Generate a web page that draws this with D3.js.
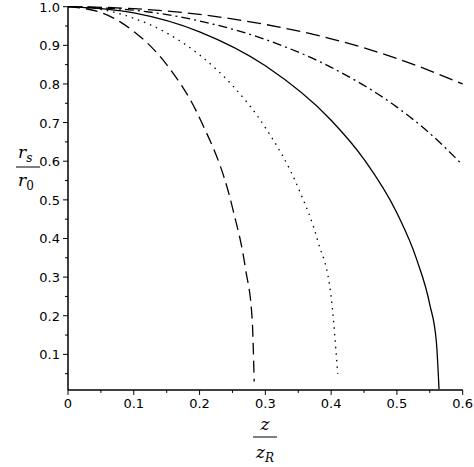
<!DOCTYPE html><html><head><script src="https://cdn.jsdelivr.net/npm/d3@7"></script>
<style>body{margin:0;background:#fff}</style></head><body><svg id="c" width="474" height="467"></svg><script>
const xTicks=[0,0.1,0.2,0.3,0.4,0.5,0.6];
const yTicks=[0.1,0.2,0.3,0.4,0.5,0.6,0.7,0.8,0.9,1.0];
const s1x=[0,0.05,0.1,0.15,0.2,0.25,0.27,0.28,0.283];
const s1y=[1,0.985,0.936,0.85,0.712,0.48,0.32,0.19,0.03];
const s2x=[0,0.05,0.1,0.15,0.2,0.25,0.3,0.35,0.38,0.4,0.41];
const s2y=[1,0.993,0.970,0.932,0.875,0.796,0.687,0.531,0.392,0.249,0.05];
const s3x=[0,0.1,0.2,0.3,0.4,0.45,0.5,0.53,0.55,0.56,0.564];
const s3y=[1,0.984,0.935,0.847,0.706,0.605,0.466,0.346,0.229,0.132,0.01];
const s4x=[0,0.1,0.2,0.3,0.4,0.5,0.55,0.6];
const s4y=[1,0.991,0.963,0.915,0.843,0.740,0.672,0.59];
const s5x=[0,0.1,0.2,0.3,0.4,0.5,0.6];
const s5y=[1,0.995,0.980,0.954,0.917,0.866,0.80];
const svg=d3.select("#c");
const x=d3.scaleLinear().domain([0,0.6]).range([68,462.7]);
const y=d3.scaleLinear().domain([0,1]).range([393,6.7]);
const g=svg.append("g").attr("font-family","DejaVu Sans, Verdana").attr("font-size",13);
const y0=y(0.008);
g.append("line").attr("x1",x(0)).attr("x2",x(0.6)).attr("y1",y0).attr("y2",y0).attr("stroke","#000").attr("stroke-width",1.5);
g.append("line").attr("x1",x(0)).attr("x2",x(0)).attr("y1",y0).attr("y2",y(1)).attr("stroke","#000").attr("stroke-width",1.5);
d3.range(0,0.6001,0.05).forEach((v,i)=>g.append("line").attr("x1",x(v)).attr("x2",x(v)).attr("y1",y0).attr("y2",y0+(i%2?3:5)).attr("stroke","#000"));
d3.range(0.05,1.0001,0.05).forEach((v,i)=>g.append("line").attr("x1",x(0)).attr("x2",x(0)-(i%2?5:3)).attr("y1",y(v)).attr("y2",y(v)).attr("stroke","#000"));
xTicks.forEach(v=>g.append("text").attr("x",x(v)).attr("y",y0+18).attr("text-anchor","middle").text(v===0?"0":v.toFixed(1)));
yTicks.forEach(v=>g.append("text").attr("x",x(0)-8).attr("y",y(v)+5).attr("text-anchor","end").text(v.toFixed(1)));
const ser=[[s1x,s1y,"12,6"],[s2x,s2y,"1.5,5"],[s3x,s3y,null],[s4x,s4y,"9,4,2,4"],[s5x,s5y,"14,6"]];
const line=d3.line().x(d=>x(d[0])).y(d=>y(d[1])).curve(d3.curveMonotoneX);
ser.forEach(([xs,ys,da])=>{const p=svg.append("path").attr("d",line(xs.map((v,i)=>[v,ys[i]]))).attr("fill","none").attr("stroke","#000").attr("stroke-width",1.3);if(da)p.attr("stroke-dasharray",da);});
const f="DejaVu Serif, Liberation Serif";
const lab=svg.append("g").attr("font-family",f).attr("font-style","italic").attr("font-size",17);
lab.append("text").attr("x",265).attr("y",430).attr("text-anchor","middle").text("z");
lab.append("line").attr("x1",253).attr("x2",277).attr("y1",437).attr("y2",437).attr("stroke","#000");
const t=lab.append("text").attr("x",256).attr("y",458).text("z");t.append("tspan").attr("font-size",12).attr("dy",4).text("R");
const t2=lab.append("text").attr("x",18).attr("y",158).text("r");t2.append("tspan").attr("font-size",12).attr("dy",4).text("s");
lab.append("line").attr("x1",16).attr("x2",40).attr("y1",167).attr("y2",167).attr("stroke","#000");
const t3=lab.append("text").attr("x",18).attr("y",186).text("r");t3.append("tspan").attr("font-size",12).attr("dy",4).attr("font-style","normal").text("0");
</script></body></html>
